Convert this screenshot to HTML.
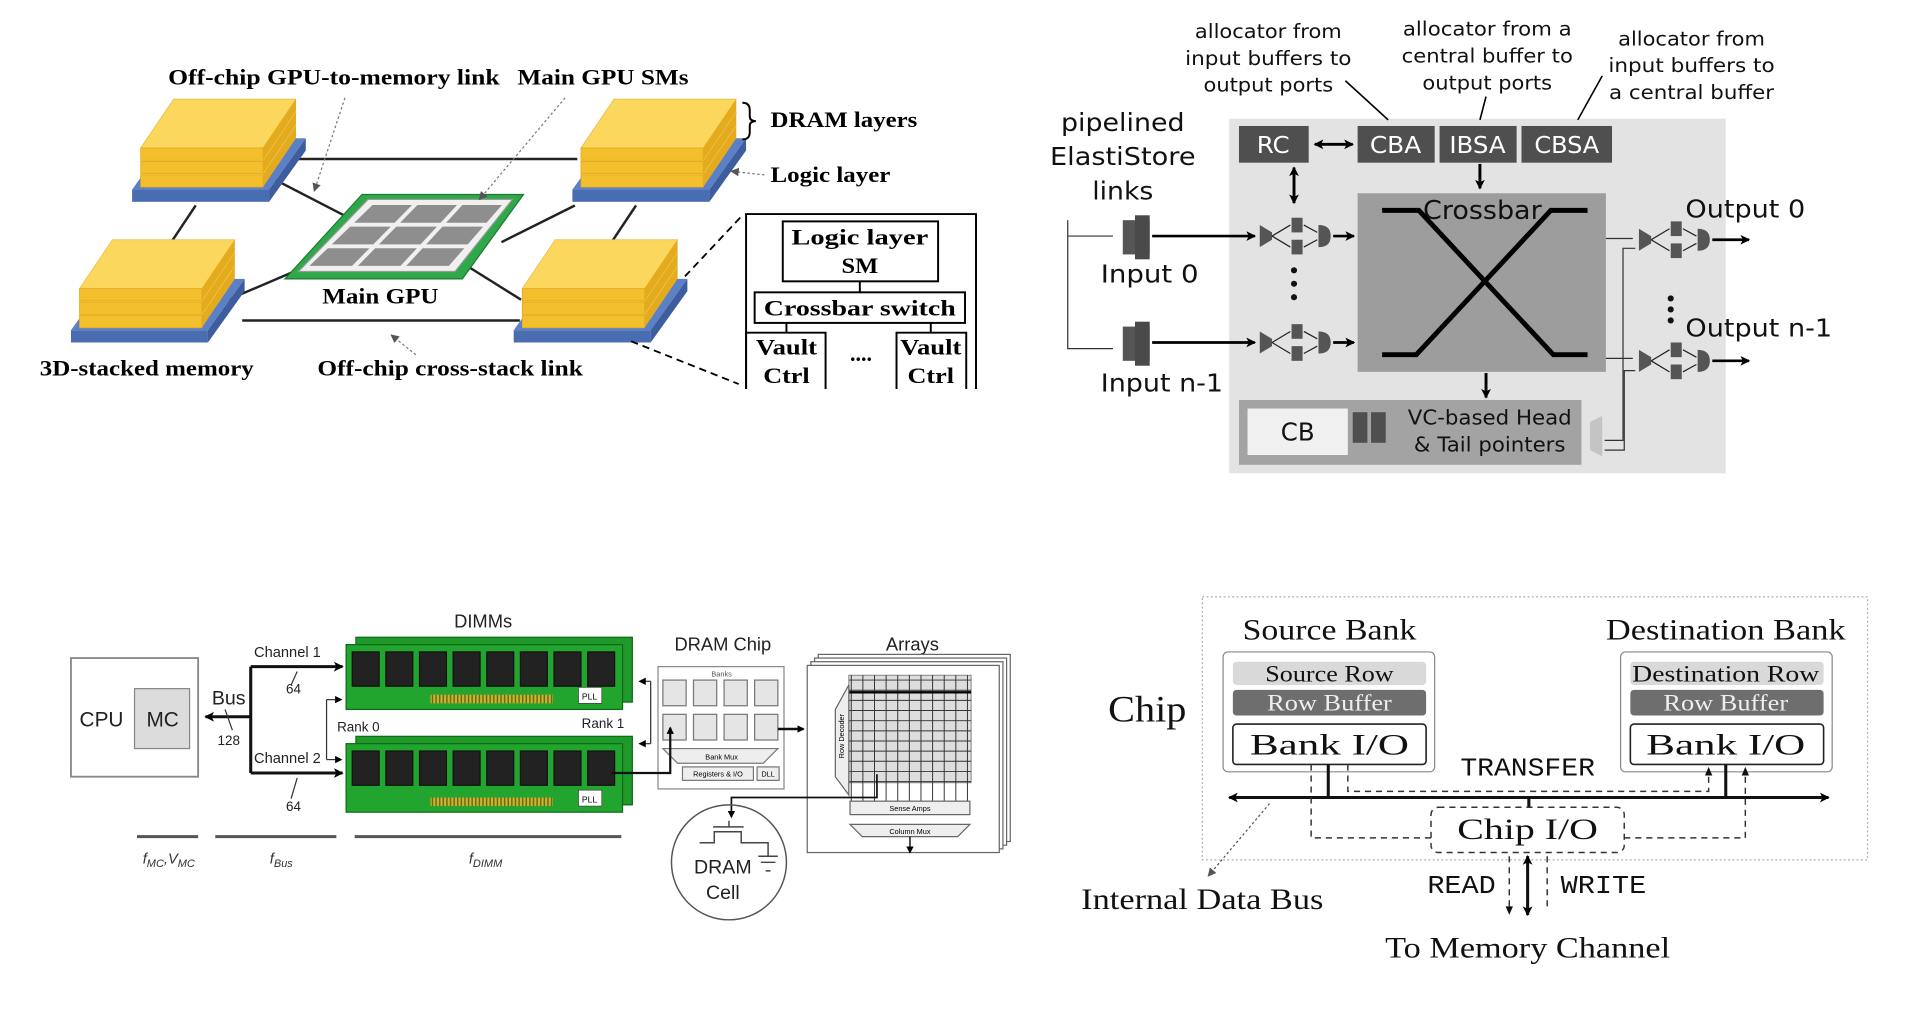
<!DOCTYPE html>
<html><head><meta charset="utf-8"><style>
html,body{margin:0;padding:0;background:#fff;overflow:hidden}
svg{display:block}
.tb{font-family:"Liberation Serif",serif;font-weight:bold}
.ss{font-family:"DejaVu Sans","Liberation Sans",sans-serif}
.ar{font-family:"Liberation Sans",sans-serif}
.se{font-family:"Liberation Serif",serif}
.mo{font-family:"Liberation Mono",monospace}
</style></head><body>
<svg id="s" width="1908" height="1025" viewBox="0 0 1560 838" preserveAspectRatio="none" xmlns="http://www.w3.org/2000/svg">
<defs>
<marker id="ah" markerWidth="8" markerHeight="8" refX="7" refY="4" orient="auto-start-reverse" markerUnits="userSpaceOnUse"><path d="M0,0 L8,4 L0,8 L2,4 z" fill="#000"/></marker>
<marker id="ahs" markerWidth="6" markerHeight="6" refX="5" refY="3" orient="auto" markerUnits="userSpaceOnUse"><path d="M0,0 L6,3 L0,6 z" fill="#000"/></marker>
<marker id="ahg" markerWidth="7" markerHeight="7" refX="6" refY="3.5" orient="auto" markerUnits="userSpaceOnUse"><path d="M0,0 L7,3.5 L0,7 z" fill="#555"/></marker>
</defs>

<!-- ============ Q1 ============ -->
<g stroke="#222" stroke-width="2" fill="none">
<line x1="240" y1="130" x2="472" y2="130"/>
<line x1="198" y1="262" x2="425" y2="262"/>
<line x1="160" y1="168" x2="140" y2="198"/>
<line x1="520" y1="168" x2="500" y2="198"/>
<line x1="225" y1="147" x2="285" y2="178"/>
<line x1="410" y1="198" x2="470" y2="168"/>
<line x1="175" y1="250" x2="245" y2="220"/>
<line x1="378" y1="215" x2="426" y2="245"/>
</g>
<g id="stacks"></g>
<g id="gpu"></g>
<g stroke="#777" stroke-width="1" stroke-dasharray="2,2" fill="none">
<line x1="282" y1="80" x2="257" y2="156" marker-end="url(#ahg)"/>
<line x1="462" y1="80" x2="392" y2="163" marker-end="url(#ahg)"/>
<line x1="340" y1="290" x2="320" y2="274" marker-end="url(#ahg)"/>
<line x1="625" y1="143" x2="598" y2="140" marker-end="url(#ahg)"/>
</g>
<path d="M607,84 q6,0 6,6 v5 q0,4 5,4 q-5,0 -5,4 v5 q0,6 -6,6" stroke="#000" stroke-width="1.6" fill="none"/>
<g class="tb" font-size="18" fill="#000" lengthAdjust="spacingAndGlyphs">
<text x="273" y="69" text-anchor="middle" textLength="271" lengthAdjust="spacingAndGlyphs">Off-chip GPU-to-memory link</text>
<text x="493" y="69" text-anchor="middle" textLength="140" lengthAdjust="spacingAndGlyphs">Main GPU SMs</text>
<text x="630" y="104" textLength="120" lengthAdjust="spacingAndGlyphs">DRAM layers</text>
<text x="630" y="149" textLength="98" lengthAdjust="spacingAndGlyphs">Logic layer</text>
<text x="311" y="248" text-anchor="middle" textLength="95" lengthAdjust="spacingAndGlyphs">Main GPU</text>
<text x="120" y="307" text-anchor="middle" textLength="175" lengthAdjust="spacingAndGlyphs">3D-stacked memory</text>
<text x="368" y="307" text-anchor="middle" textLength="217" lengthAdjust="spacingAndGlyphs">Off-chip cross-stack link</text>
</g>
<g stroke="#000" stroke-width="1.6" fill="#fff">
<path d="M610,318 V175 H798 V318" fill="none"/>
<rect x="640" y="181" width="127" height="49"/>
<rect x="617" y="239" width="172" height="25"/>
<path d="M610,318 V272 H675 V318" fill="none"/>
<path d="M733,318 V272 H790 V318" fill="none"/>
<line x1="703" y1="230" x2="703" y2="239"/>
<line x1="643" y1="264" x2="643" y2="272"/>
<line x1="761" y1="264" x2="761" y2="272"/>
</g>
<g class="tb" font-size="18" text-anchor="middle" fill="#000">
<text x="703" y="200" textLength="112" lengthAdjust="spacingAndGlyphs">Logic layer</text>
<text x="703" y="223" textLength="30" lengthAdjust="spacingAndGlyphs">SM</text>
<text x="703" y="258" textLength="157" lengthAdjust="spacingAndGlyphs">Crossbar switch</text>
<text x="643" y="290" textLength="50" lengthAdjust="spacingAndGlyphs">Vault</text><text x="643" y="313" textLength="38" lengthAdjust="spacingAndGlyphs">Ctrl</text>
<text x="761" y="290" textLength="50" lengthAdjust="spacingAndGlyphs">Vault</text><text x="761" y="313" textLength="38" lengthAdjust="spacingAndGlyphs">Ctrl</text>
<text x="704" y="295">....</text>
</g>
<g stroke="#000" stroke-width="1.5" stroke-dasharray="6,4"><line x1="560" y1="226" x2="607" y2="176"/><line x1="516" y1="279" x2="604" y2="314"/></g>

<!-- ============ Q2 ============ -->
<rect x="1005" y="97" width="406" height="290" fill="#e3e3e3"/>
<g fill="#4f4f4f"><rect x="1013" y="103" width="57" height="30"/><rect x="1110" y="103" width="63" height="30"/><rect x="1177" y="103" width="63" height="30"/><rect x="1244" y="103" width="74" height="30"/></g>
<g class="ss" font-size="19" fill="#fff" text-anchor="middle"><text x="1041" y="125" textLength="27" lengthAdjust="spacingAndGlyphs">RC</text><text x="1141" y="125" textLength="42" lengthAdjust="spacingAndGlyphs">CBA</text><text x="1208" y="125" textLength="46" lengthAdjust="spacingAndGlyphs">IBSA</text><text x="1281" y="125" textLength="53" lengthAdjust="spacingAndGlyphs">CBSA</text></g>
<rect x="1110" y="158" width="203" height="146" fill="#9d9d9d"/>
<rect x="1013" y="327" width="280" height="53" fill="#a3a3a3"/>
<rect x="1020" y="334" width="82" height="38" fill="#f0f0f0"/>
<rect x="1106" y="337" width="12" height="25" fill="#4f4f4f"/><rect x="1121" y="337" width="12" height="25" fill="#4f4f4f"/>
<path d="M1300,345 L1310,340 V373 L1300,368 Z" fill="#c4c4c4"/>
<g stroke="#000" stroke-width="2.4" fill="none">
<line x1="1075" y1="118" x2="1106" y2="118" marker-start="url(#ah)" marker-end="url(#ah)"/>
<line x1="1058" y1="137" x2="1058" y2="166" marker-start="url(#ah)" marker-end="url(#ah)"/>
<line x1="1210" y1="134" x2="1210" y2="154" marker-end="url(#ah)"/>
<line x1="1215" y1="305" x2="1215" y2="325" marker-end="url(#ah)"/>
</g>
<g stroke="#000" stroke-width="4" fill="none">
<path d="M1130,172 H1160 L1270,290 H1298"/>
<path d="M1130,290 H1158 L1268,172 H1298"/>
</g>
<text x="1212" y="179" class="ss" font-size="21" text-anchor="middle" fill="#111" textLength="97" lengthAdjust="spacingAndGlyphs">Crossbar</text>
<g class="ss" font-size="17" fill="#111" text-anchor="middle"><text x="1218" y="347" textLength="134" lengthAdjust="spacingAndGlyphs">VC-based Head</text><text x="1218" y="369" textLength="124" lengthAdjust="spacingAndGlyphs">&amp; Tail pointers</text></g>
<text x="1061" y="360" class="ss" font-size="20" text-anchor="middle" fill="#111">CB</text>
<g stroke="#333" stroke-width="1" fill="none">
<path d="M1313,195 H1335"/><path d="M1313,293 H1335"/>
<path d="M1337,203 H1327 V360 H1312"/><path d="M1337,303 H1328 V368 H1312"/>
<path d="M873,180 V285 H910 M873,193 H910"/>
</g>
<g id="pipes"></g>
<g class="ss" font-size="20" fill="#111">
<text x="918" y="107" text-anchor="middle" textLength="101" lengthAdjust="spacingAndGlyphs">pipelined</text>
<text x="918" y="135" text-anchor="middle" textLength="119" lengthAdjust="spacingAndGlyphs">ElastiStore</text>
<text x="918" y="163" text-anchor="middle" textLength="50" lengthAdjust="spacingAndGlyphs">links</text>
<text x="940" y="231" text-anchor="middle" textLength="80" lengthAdjust="spacingAndGlyphs">Input 0</text>
<text x="950" y="320" text-anchor="middle" textLength="100" lengthAdjust="spacingAndGlyphs">Input n-1</text>
<text x="1378" y="178" textLength="98" lengthAdjust="spacingAndGlyphs">Output 0</text>
<text x="1378" y="275" textLength="120" lengthAdjust="spacingAndGlyphs">Output n-1</text>
</g>
<g class="ss" font-size="16" fill="#111" text-anchor="middle">
<text x="1037" y="31" textLength="120" lengthAdjust="spacingAndGlyphs">allocator from</text><text x="1037" y="53" textLength="136" lengthAdjust="spacingAndGlyphs">input buffers to</text><text x="1037" y="75" textLength="106" lengthAdjust="spacingAndGlyphs">output ports</text>
<text x="1216" y="29" textLength="138" lengthAdjust="spacingAndGlyphs">allocator from a</text><text x="1216" y="51" textLength="140" lengthAdjust="spacingAndGlyphs">central buffer to</text><text x="1216" y="73" textLength="106" lengthAdjust="spacingAndGlyphs">output ports</text>
<text x="1383" y="37" textLength="120" lengthAdjust="spacingAndGlyphs">allocator from</text><text x="1383" y="59" textLength="136" lengthAdjust="spacingAndGlyphs">input buffers to</text><text x="1383" y="81" textLength="135" lengthAdjust="spacingAndGlyphs">a central buffer</text>
</g>
<g stroke="#000" stroke-width="1.3"><line x1="1100" y1="66" x2="1135" y2="98"/><line x1="1215" y1="79" x2="1210" y2="98"/><line x1="1310" y1="62" x2="1290" y2="98"/></g>
<g fill="#111"><circle cx="1058" cy="221" r="2.5"/><circle cx="1058" cy="232" r="2.5"/><circle cx="1058" cy="243" r="2.5"/><circle cx="1366" cy="244" r="2.5"/><circle cx="1366" cy="253" r="2.5"/><circle cx="1366" cy="262" r="2.5"/></g>

<!-- ============ Q3 ============ -->
<rect x="58" y="538" width="104" height="97" fill="#fff" stroke="#888" stroke-width="1.5"/>
<rect x="110" y="563" width="45" height="49" fill="#dcdcdc" stroke="#888"/>
<g class="ar" fill="#222" text-anchor="middle">
<text x="83" y="594" font-size="17">CPU</text><text x="133" y="594" font-size="17">MC</text>
<text x="187" y="576" font-size="16">Bus</text><text x="187" y="609" font-size="11">128</text>
<text x="235" y="537" font-size="12">Channel 1</text><text x="240" y="567" font-size="11">64</text>
<text x="235" y="624" font-size="12">Channel 2</text><text x="240" y="663" font-size="11">64</text>
<text x="395" y="513" font-size="15">DIMMs</text>
<text x="591" y="532" font-size="15">DRAM Chip</text>
<text x="746" y="532" font-size="15">Arrays</text>
<text x="293" y="598" font-size="11">Rank 0</text><text x="493" y="595" font-size="11">Rank 1</text>
<text x="591" y="714" font-size="16">DRAM</text><text x="591" y="735" font-size="16">Cell</text>
</g>
<g stroke="#111" stroke-width="2.5" fill="none">
<line x1="205" y1="586" x2="168" y2="586" marker-end="url(#ah)"/>
<path d="M205,545 V632"/>
<line x1="205" y1="545" x2="280" y2="545" marker-end="url(#ah)"/>
<line x1="205" y1="632" x2="280" y2="632" marker-end="url(#ah)"/>
</g>
<g stroke="#333" stroke-width="1" fill="none">
<line x1="190" y1="597" x2="184" y2="580"/><line x1="243" y1="549" x2="238" y2="560"/><line x1="243" y1="636" x2="238" y2="653"/>
<path d="M267,572 V621"/>
<line x1="267" y1="572" x2="279" y2="572" marker-end="url(#ahs)"/><line x1="267" y1="621" x2="279" y2="621" marker-end="url(#ahs)"/>
<path d="M532,557 V608"/><line x1="532" y1="557" x2="523" y2="557" marker-end="url(#ahs)"/><line x1="532" y1="608" x2="523" y2="608" marker-end="url(#ahs)"/>
</g>
<g id="dimms"></g>
<g id="chip"></g>
<g stroke="#555" stroke-width="2.5"><line x1="112" y1="684" x2="162" y2="684"/><line x1="176" y1="684" x2="275" y2="684"/><line x1="290" y1="684" x2="508" y2="684"/></g>
<g class="ar" font-style="italic" font-size="12" fill="#333" text-anchor="middle"><text x="138" y="706">f<tspan font-size="9" dy="3">MC</tspan><tspan dy="-3">,V</tspan><tspan font-size="9" dy="3">MC</tspan></text><text x="230" y="706">f<tspan font-size="9" dy="3">Bus</tspan></text><text x="397" y="706">f<tspan font-size="9" dy="3">DIMM</tspan></text></g>

<!-- ============ Q4 ============ -->
<rect x="983" y="488" width="544" height="215" fill="none" stroke="#999" stroke-width="0.8" stroke-dasharray="1.5,2"/>
<g class="se" fill="#111">
<text x="938" y="590" font-size="30" text-anchor="middle" textLength="64" lengthAdjust="spacingAndGlyphs">Chip</text>
<text x="1087" y="523" font-size="24" text-anchor="middle" textLength="142" lengthAdjust="spacingAndGlyphs">Source Bank</text>
<text x="1411" y="523" font-size="24" text-anchor="middle" textLength="196" lengthAdjust="spacingAndGlyphs">Destination Bank</text>
<text x="983" y="743" font-size="24" text-anchor="middle" textLength="198" lengthAdjust="spacingAndGlyphs">Internal Data Bus</text>
<text x="1249" y="783" font-size="24" text-anchor="middle" textLength="233" lengthAdjust="spacingAndGlyphs">To Memory Channel</text>
</g>
<g stroke="#888" stroke-width="1" fill="#fff"><rect x="1000" y="533" width="173" height="98" rx="4"/><rect x="1325" y="533" width="173" height="98" rx="4"/></g>
<g><rect x="1008" y="541" width="158" height="19" rx="3" fill="#d9d9d9"/><rect x="1008" y="564" width="158" height="21" rx="3" fill="#6e6e6e"/>
<rect x="1008" y="592" width="158" height="33" rx="3" fill="#fff" stroke="#222" stroke-width="1.3"/>
<rect x="1333" y="541" width="158" height="19" rx="3" fill="#d9d9d9"/><rect x="1333" y="564" width="158" height="21" rx="3" fill="#6e6e6e"/>
<rect x="1333" y="592" width="158" height="33" rx="3" fill="#fff" stroke="#222" stroke-width="1.3"/></g>
<g class="se" text-anchor="middle">
<text x="1087" y="557" font-size="19" fill="#111" textLength="105" lengthAdjust="spacingAndGlyphs">Source Row</text><text x="1087" y="581" font-size="19" fill="#eee" textLength="102" lengthAdjust="spacingAndGlyphs">Row Buffer</text><text x="1087" y="617" font-size="24" fill="#111" textLength="130" lengthAdjust="spacingAndGlyphs">Bank I/O</text>
<text x="1411" y="557" font-size="19" fill="#111" textLength="153" lengthAdjust="spacingAndGlyphs">Destination Row</text><text x="1411" y="581" font-size="19" fill="#eee" textLength="102" lengthAdjust="spacingAndGlyphs">Row Buffer</text><text x="1411" y="617" font-size="24" fill="#111" textLength="130" lengthAdjust="spacingAndGlyphs">Bank I/O</text>
<text x="1249" y="686" font-size="24" fill="#111" textLength="115" lengthAdjust="spacingAndGlyphs">Chip I/O</text>
</g>
<text x="1249" y="634" class="mo" font-size="21" text-anchor="middle" fill="#111" textLength="110" lengthAdjust="spacingAndGlyphs">TRANSFER</text>
<text x="1195" y="730" class="mo" font-size="21" text-anchor="middle" fill="#111" textLength="56" lengthAdjust="spacingAndGlyphs">READ</text>
<text x="1311" y="730" class="mo" font-size="21" text-anchor="middle" fill="#111" textLength="70" lengthAdjust="spacingAndGlyphs">WRITE</text>
<g stroke="#111" stroke-width="2.5" fill="none">
<line x1="1005" y1="652" x2="1495" y2="652" marker-start="url(#ah)" marker-end="url(#ah)"/>
<line x1="1086" y1="625" x2="1086" y2="652"/><line x1="1411" y1="625" x2="1411" y2="652"/><line x1="1250" y1="652" x2="1250" y2="660"/>
<line x1="1249" y1="700" x2="1249" y2="748" marker-start="url(#ah)" marker-end="url(#ah)"/>
</g>
<g stroke="#333" stroke-width="1.2" fill="none" stroke-dasharray="5,4">
<rect x="1170" y="660" width="158" height="37" rx="6"/>
<path d="M1072,625 V685 H1170"/><path d="M1328,685 H1427 V630"/>
<path d="M1102,625 V647 H1397 V630"/>
<line x1="1234" y1="700" x2="1234" y2="745"/><line x1="1265" y1="700" x2="1265" y2="745"/>
</g>
<g fill="#111"><path d="M1397,627 l-3,7 h6z"/><path d="M1427,627 l-3,7 h6z"/><path d="M1234,748 l-3,-7 h6z"/></g>
<line x1="1038" y1="657" x2="988" y2="716" stroke="#555" stroke-width="1" stroke-dasharray="2,2" marker-end="url(#ahg)"/>
</svg>
<script>
var NS="http://www.w3.org/2000/svg";
function el(p,t,a){var e=document.createElementNS(NS,t);for(var k in a)e.setAttribute(k,a[k]);document.getElementById(p).appendChild(e);return e;}
function P(pts){return pts.map(function(p){return p[0]+","+p[1]}).join(" ");}
function stack(ox,oy){
 el("stacks","polygon",{points:P([[ox+30,oy-52],[ox+142,oy-52],[ox+112,oy-10],[ox,oy-10]]),fill:"#5b80c6"});
 el("stacks","rect",{x:ox,y:oy-10,width:112,height:10,fill:"#4a6cb0"});
 el("stacks","polygon",{points:P([[ox+112,oy-10],[ox+142,oy-52],[ox+142,oy-42],[ox+112,oy]]),fill:"#3d5d9e"});
 for(var i=0;i<3;i++){var yf=oy-22-11*i;
  el("stacks","polygon",{points:P([[ox+7,yf],[ox+107,yf],[ox+134,yf-40],[ox+34,yf-40]]),fill:"#fcd75e",stroke:"#e7b93a","stroke-width":0.6});
  el("stacks","rect",{x:ox+7,y:yf,width:100,height:10,fill:"#f3bf2c",stroke:"#e0a91e","stroke-width":0.6});
  el("stacks","polygon",{points:P([[ox+107,yf],[ox+134,yf-40],[ox+134,yf-30],[ox+107,yf+10]]),fill:"#e4ab1f"});
 }}
stack(108,165);stack(468,165);stack(58,280);stack(420,280);
el("gpu","polygon",{points:P([[296,159],[428,159],[378,228],[233,228]]),fill:"#2fa84a",stroke:"#1d7a33"});
el("gpu","polygon",{points:P([[301,163],[419,163],[372,222],[244,222]]),fill:"#f0f0f0",stroke:"#999"});
function bl(u,v){var a=[304,166],b=[414,166],c=[368,219],d=[249,219];
 var x=(1-v)*((1-u)*a[0]+u*b[0])+v*((1-u)*d[0]+u*c[0]);var y=(1-v)*((1-u)*a[1]+u*b[1])+v*((1-u)*d[1]+u*c[1]);return [x,y];}
for(var i=0;i<3;i++)for(var j=0;j<3;j++){var u0=i/3+0.02,u1=(i+1)/3-0.02,v0=j/3+0.03,v1=(j+1)/3-0.03;
 el("gpu","polygon",{points:P([bl(u0,v0),bl(u1,v0),bl(u1,v1),bl(u0,v1)]),fill:"#8e8e8e"});}
function pipe(x,y){
 el("pipes","polygon",{points:P([[x,y-9],[x+10,y-3],[x+10,y+3],[x,y+9]]),fill:"#555"});
 el("pipes","rect",{x:x+26,y:y-15,width:9,height:12,fill:"#555"});el("pipes","rect",{x:x+26,y:y+3,width:9,height:12,fill:"#555"});
 el("pipes","path",{d:"M"+(x+48)+","+(y-9)+" q10,0 10,9 q0,9 -10,9 z",fill:"#555"});
 el("pipes","path",{d:"M"+(x+10)+","+y+" L"+(x+25)+","+(y-9)+" M"+(x+10)+","+y+" L"+(x+25)+","+(y+9)+" M"+(x+36)+","+(y-9)+" L"+(x+47)+","+(y-3)+" M"+(x+36)+","+(y+9)+" L"+(x+47)+","+(y+3),stroke:"#222","stroke-width":1,fill:"none"});
}
pipe(1030,193);pipe(1030,280);pipe(1340,196);pipe(1340,295);
el("pipes","rect",{x:918,y:180,width:22,height:28,fill:"#555"});el("pipes","rect",{x:918,y:267,width:22,height:28,fill:"#555"});
el("pipes","rect",{x:928,y:176,width:12,height:36,fill:"#4a4a4a"});el("pipes","rect",{x:928,y:263,width:12,height:36,fill:"#4a4a4a"});
[[942,193,1026],[942,280,1026],[1090,193,1107],[1090,280,1107],[1400,196,1430],[1400,295,1430]].forEach(function(a){
 el("pipes","line",{x1:a[0],y1:a[1],x2:a[2],y2:a[1],stroke:"#000","stroke-width":2.2,"marker-end":"url(#ah)"});});
function dimm(y,h){
 el("dimms","rect",{x:291,y:y-6,width:226,height:h,fill:"#1f9a2a",stroke:"#0d6b16"});
 el("dimms","rect",{x:283,y:y,width:226,height:h,fill:"#22a52e",stroke:"#0d6b16"});
 for(var i=0;i<8;i++)el("dimms","rect",{x:288+i*27.5,y:y+6,width:22,height:28,fill:"#222",stroke:"#111"});
 el("dimms","rect",{x:352,y:y+h-12,width:100,height:7,fill:"#c9b52c"});
 for(var k=0;k<34;k++)el("dimms","rect",{x:353+k*2.95,y:y+h-12,width:1.2,height:7,fill:"#6a6a1a"});
 el("dimms","rect",{x:473,y:y+h-18,width:19,height:13,fill:"#fff",stroke:"#333","stroke-width":0.5});
 var t=el("dimms","text",{x:482,y:y+h-8,"font-size":7,"text-anchor":"middle","font-family":"Liberation Sans"});t.textContent="PLL";
}
dimm(527,53);dimm(608,56);
var C="chip";
el(C,"rect",{x:538,y:545,width:103,height:100,fill:"#fff",stroke:"#888"});
var t=el(C,"text",{x:590,y:553,"font-size":6,"text-anchor":"middle","font-family":"Liberation Sans",fill:"#555"});t.textContent="Banks";
for(var r=0;r<2;r++)for(var c=0;c<4;c++)el(C,"rect",{x:542+c*25,y:556+r*28,width:19,height:21,fill:"#e5e5e5",stroke:"#777"});
el(C,"polygon",{points:P([[542,612],[636,612],[624,624],[554,624]]),fill:"#eee",stroke:"#777"});
t=el(C,"text",{x:590,y:621,"font-size":6,"text-anchor":"middle","font-family":"Liberation Sans"});t.textContent="Bank Mux";
el(C,"rect",{x:558,y:627,width:58,height:11,fill:"#eee",stroke:"#777"});el(C,"rect",{x:619,y:627,width:18,height:11,fill:"#eee",stroke:"#777"});
t=el(C,"text",{x:587,y:635,"font-size":6,"text-anchor":"middle","font-family":"Liberation Sans"});t.textContent="Registers & I/O";
t=el(C,"text",{x:628,y:635,"font-size":6,"text-anchor":"middle","font-family":"Liberation Sans"});t.textContent="DLL";
el(C,"line",{x1:636,y1:596,x2:657,y2:596,stroke:"#111","stroke-width":2,"marker-end":"url(#ahs)"});
el(C,"path",{d:"M500,632 H548 V595",stroke:"#111","stroke-width":1.8,fill:"none","marker-end":"url(#ahs)"});
for(var k=3;k>=1;k--)el(C,"rect",{x:660+k*3,y:544-k*3,width:157,height:153,fill:"#fff",stroke:"#666"});
el(C,"rect",{x:660,y:544,width:157,height:153,fill:"#fff",stroke:"#666"});
el(C,"rect",{x:694,y:552,width:100,height:88,fill:"#ddd",stroke:"#666","stroke-width":0.6});
for(var i=0;i<=10;i++){el(C,"line",{x1:696+i*9.5,y1:552,x2:696+i*9.5,y2:660,stroke:"#333","stroke-width":0.8});}
for(var j=0;j<=10;j++){el(C,"line",{x1:694,y1:556+j*8.3,x2:794,y2:556+j*8.3,stroke:"#333","stroke-width":0.8});}
el(C,"line",{x1:694,y1:566,x2:794,y2:566,stroke:"#000","stroke-width":2});
el(C,"polygon",{points:P([[683,580],[694,560],[694,650],[683,635]]),fill:"#eee",stroke:"#666"});
t=el(C,"text",{x:0,y:0,"font-size":6,"font-family":"Liberation Sans",transform:"translate(690,620) rotate(-90)"});t.textContent="Row Decoder";
el(C,"rect",{x:695,y:655,width:98,height:11,fill:"#eee",stroke:"#666"});
t=el(C,"text",{x:744,y:663,"font-size":6,"text-anchor":"middle","font-family":"Liberation Sans"});t.textContent="Sense Amps";
el(C,"polygon",{points:P([[695,674],[793,674],[783,684],[705,684]]),fill:"#eee",stroke:"#666"});
t=el(C,"text",{x:744,y:682,"font-size":6,"text-anchor":"middle","font-family":"Liberation Sans"});t.textContent="Column Mux";
el(C,"line",{x1:744,y1:684,x2:744,y2:697,stroke:"#111","stroke-width":1.2,"marker-end":"url(#ahs)"});
el(C,"path",{d:"M717,633 V652 H598 V668",stroke:"#111","stroke-width":1.4,fill:"none","marker-end":"url(#ahs)"});
el(C,"circle",{cx:596,cy:705,r:47,fill:"none",stroke:"#555","stroke-width":1.2});
el(C,"path",{d:"M583,676 H608 M596,671 V676 M572,689 H584 V680 H606 V689 H628 V700 M620,700 H636 M622,705 H634 M626,712 H630",stroke:"#444","stroke-width":1.2,fill:"none"});
</script>
</body></html>
